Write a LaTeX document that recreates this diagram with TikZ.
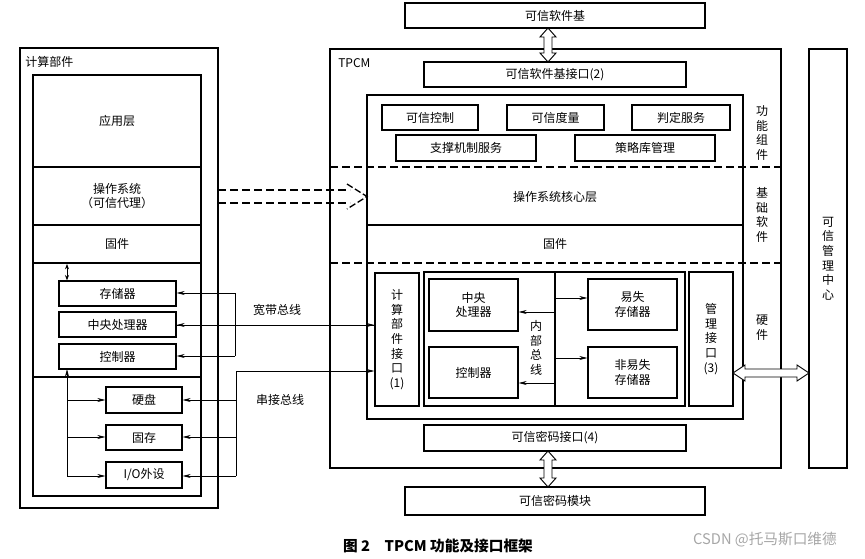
\documentclass[tikz,border=0pt]{standalone}
\usepackage{fontspec}
\setmainfont{Noto Sans CJK SC}
\usetikzlibrary{arrows.meta}
\newcommand\bx[6]{\node[bx,minimum width={(#4-#2)*0.75pt},minimum height={(#5-#3)*0.75pt}] (#1) at ({(#2+#4)/2},{(#3+#5)/2}) {#6};}
% vertical hollow double arrow: cx, y1, y2
\newcommand\dav[3]{\draw[line width=0.7pt,fill=white] (#1,#2) -- (#1+8,#2+9) -- (#1+4,#2+9) -- (#1+4,#3-9) -- (#1+8,#3-9) -- (#1,#3) -- (#1-8,#3-9) -- (#1-4,#3-9) -- (#1-4,#2+9) -- (#1-8,#2+9) -- cycle;}
% horizontal hollow double arrow: cy, x1, x2
\newcommand\dah[3]{\draw[line width=0.7pt,fill=white] (#2,#1) -- (#2+12,#1-8) -- (#2+12,#1-4) -- (#3-12,#1-4) -- (#3-12,#1-8) -- (#3,#1) -- (#3-12,#1+8) -- (#3-12,#1+4) -- (#2+12,#1+4) -- (#2+12,#1+8) -- cycle;}
\begin{document}
\begin{tikzpicture}[x=0.75pt,y=-0.75pt,
  bx/.style={draw,line width=1pt,inner sep=0pt,align=center,font=\fontsize{9}{11}\selectfont},
  lbl/.style={inner sep=0pt,align=center,font=\fontsize{9}{11}\selectfont},
  arr/.style={-{Stealth[length=6pt,width=3pt]},line width=0.5pt},
  ln/.style={line width=0.5pt},
  dsh/.style={line width=1pt,dash pattern=on 6pt off 3pt}]
\useasboundingbox (0,0) rectangle (865,558);
% top
\bx{tsb}{405}{3}{705}{28}{可信软件基}
\bx{tpcm}{330}{49}{781}{468}{}
\node[lbl,anchor=north west] (tpcmlbl) at (338,58) {TPCM};
\bx{if2}{424}{62}{686}{87}{可信软件基接口(2)}
\dav{548}{28}{62}
\bx{inner}{367}{95}{743}{419}{}
\bx{kxkz}{382}{105}{478}{130}{可信控制}
\bx{kxdl}{507}{105}{604}{130}{可信度量}
\bx{pdfw}{632}{105}{730}{130}{判定服务}
\bx{zcjz}{396}{135}{536}{161}{支撑机制服务}
\bx{clk}{575}{135}{715}{161}{策略库管理}
\coordinate (d1l) at (330,167); \coordinate (d1r) at (781,167);
\draw[dsh] (d1l) -- (d1r);
\node[lbl] (oscore) at (555,197) {操作系统核心层};
\coordinate (s1l) at (367,225); \coordinate (s1r) at (743,225);
\draw[line width=1pt] (s1l) -- (s1r);
\node[lbl] (fw2) at (555,244) {固件};
\coordinate (d2l) at (330,263); \coordinate (d2r) at (781,263);
\draw[dsh] (d2l) -- (d2r);
\node[lbl] (gnzj) at (762,133) {功\\能\\组\\件};
\node[lbl] (jcrj) at (762,215) {基\\础\\软\\件};
\node[lbl] (yj) at (762,328) {硬\\件};
% hardware
\bx{if1}{375}{273}{419}{406}{计\\算\\部\\件\\接\\口\\(1)}
\bx{mid}{424}{272}{685}{406}{}
\bx{cpu2}{429}{279}{518}{331}{中央\\处理器}
\bx{ctl2}{429}{347}{518}{398}{控制器}
\bx{vol}{588}{279}{677}{330}{易失\\存储器}
\bx{nvol}{588}{347}{677}{398}{非易失\\存储器}
\bx{if3}{689}{272}{733}{406}{管\\理\\接\\口\\(3)}
\coordinate (busT) at (555,272); \coordinate (busB) at (555,406);
\draw[line width=0.8pt] (busT) -- (busB);
\node[lbl] (nbzx) at (536,348) {内\\部\\总\\线};
\draw[arr] (555,312) -- (cpu2.east |- 0,312);
\draw[arr] (555,383) -- (ctl2.east |- 0,383);
\draw[arr] (555,298) -- (vol.west |- 0,298);
\draw[arr] (555,358) -- (nvol.west |- 0,358);
\bx{if4}{424}{425}{686}{451}{可信密码接口(4)}
\bx{tcm}{405}{487}{705}{515}{可信密码模块}
\dav{548}{451}{487}
% management
\bx{mgmt}{809}{49}{847}{468}{可\\信\\管\\理\\中\\心}
\dah{373}{733}{809}
% left
\bx{comp}{20}{48}{218}{508}{}
\node[lbl,anchor=north west] (complbl) at (25,56) {计算部件};
\bx{col}{33}{75}{201}{496}{}
\node[lbl] (app) at (117,121) {应用层};
\node[lbl] (os) at (117,196) {操作系统\\（可信代理）};
\node[lbl] (fw1) at (117,244) {固件};
\foreach \yy/\nm in {167/a,225/b,263/c,377/d}{\coordinate (l\nm1) at (33,\yy); \coordinate (l\nm2) at (201,\yy); \draw[line width=1pt] (l\nm1) -- (l\nm2);}
\bx{mem}{59}{281}{176}{306}{存储器}
\bx{cpu1}{59}{312}{176}{337}{中央处理器}
\bx{ctl1}{59}{344}{176}{369}{控制器}
\bx{hd}{106}{387}{182}{413}{硬盘}
\bx{gc}{106}{425}{182}{450}{固存}
\bx{io}{106}{462}{182}{488}{I/O外设}
\draw[{Stealth[length=4pt,width=3pt]}-{Stealth[length=4pt,width=3pt]},line width=0.5pt] (67,264) -- (mem.north -| 67,0);
% broadband bus
\coordinate (bb1) at (235,293); \coordinate (bb2) at (235,356);
\draw[ln] (bb1) -- (bb2);
\draw[arr] (bb1) -- (mem.east |- bb1);
\draw[arr] (bb2) -- (ctl1.east |- bb2);
\draw[arr] (if1.west |- 0,325) -- (cpu1.east |- 0,325);
\draw[arr] (cpu1.east |- 0,325) -- (if1.west |- 0,325);
\node[lbl] (kdzx) at (277,310) {宽带总线};
% serial bus
\coordinate (sb1) at (236,371); \coordinate (sb2) at (236,476);
\draw[arr] (sb1) -- (if1.west |- sb1);
\draw[ln] (sb1) -- (sb2);
\draw[arr] (236,400) -- (hd.east |- 0,400);
\draw[arr] (236,437) -- (gc.east |- 0,437);
\draw[arr] (sb2) -- (io.east |- sb2);
\node[lbl] (cjzx) at (280,400) {串接总线};
% controller to peripherals
\coordinate (cv) at (67,476);
\draw[arr] (cv) -- (67,369);
\draw[arr] (67,400) -- (hd.west |- 0,400);
\draw[arr] (67,437) -- (gc.west |- 0,437);
\draw[arr] (cv) -- (io.west |- cv);
% dashed hollow arrow
\draw[dsh] (218,190) -- (350,190);
\draw[dsh] (218,203) -- (350,203);
\draw[line width=1pt,dash pattern=on 5pt off 2pt] (347,184) -- (367,196.5) -- (347,209);
% caption
\node[lbl,font=\bfseries\fontsize{11}{13}\selectfont] (cap) at (438,546) {图 2\quad TPCM 功能及接口框架};
\node[lbl,text=gray!70,font=\fontsize{11}{13}\selectfont] (wm) at (765,540) {CSDN @托马斯口维德};
\end{tikzpicture}
\end{document}
